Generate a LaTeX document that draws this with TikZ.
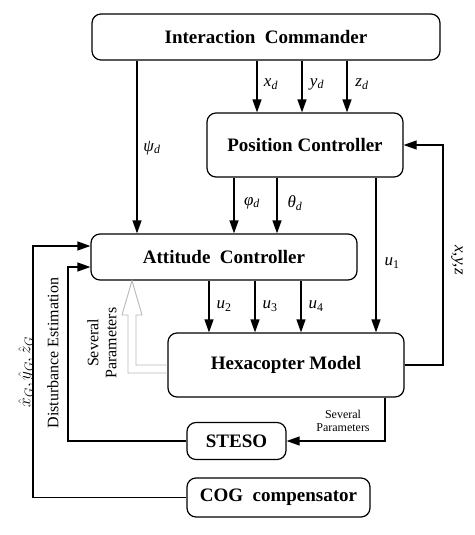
\documentclass[tikz,border=0pt]{standalone}
\usepackage{fontspec}
\setmainfont{Liberation Serif}
\usetikzlibrary{arrows.meta,calc}
\begin{document}
\begin{tikzpicture}[x=1pt,y=-1pt, line width=1.2pt,
  blk/.style={draw, rounded corners=9pt, font=\fontsize{19}{22}\selectfont\bfseries, inner sep=0pt},
  arr/.style={-{Triangle[length=13pt,width=9pt]}},
  lab/.style={font=\fontsize{17}{19}\selectfont, inner sep=0pt},
  sml/.style={font=\fontsize{12}{13.5}\selectfont, align=center, inner sep=0pt},
  rot/.style={font=\fontsize{16}{18}\selectfont, align=center, inner sep=0pt, rotate=90}]
\useasboundingbox (0,0) rectangle (474,535);
\fill[white] (0,0) rectangle (474,535);

% blocks
\node[blk, minimum width=348pt, minimum height=46pt] (IC) at (266,37) {Interaction\ \ Commander};
\node[blk, minimum width=196pt, minimum height=64pt] (PC) at (305,145) {Position Controller};
\node[blk, minimum width=266pt, minimum height=46pt] (AC) at (224,257) {Attitude\ \ Controller};
\node[blk, minimum width=236pt, minimum height=64pt] (HM) at (286,365) {Hexacopter Model};
\node[blk, minimum width=99pt, minimum height=37pt] (ST) at (236.5,441) {STESO};
\node[blk, minimum width=183pt, minimum height=39pt] (CG) at (278.5,497.5) {COG\ \ compensator};

% helper x positions
\coordinate (xps) at (137,0);
\coordinate (xxd) at (257,0);
\coordinate (xyd) at (302,0);
\coordinate (xzd) at (347,0);
\coordinate (xph) at (234,0);
\coordinate (xth) at (277,0);
\coordinate (xu1) at (376,0);
\coordinate (xu2) at (209,0);
\coordinate (xu3) at (255,0);
\coordinate (xu4) at (301,0);
\coordinate (xfb) at (443,0);
\coordinate (xsp) at (385,0);
\coordinate (xde) at (68,0);
\coordinate (xcg) at (33,0);
\coordinate (a1) at ($(AC.west)+(0,-11)$);
\coordinate (a2) at ($(AC.west)+(0,10)$);

% connectors
\draw[arr] (IC.south -| xps) -- (AC.north -| xps);
\draw[arr] (IC.south -| xxd) -- (PC.north -| xxd);
\draw[arr] (IC.south -| xyd) -- (PC.north -| xyd);
\draw[arr] (IC.south -| xzd) -- (PC.north -| xzd);
\draw[arr] (PC.south -| xph) -- (AC.north -| xph);
\draw[arr] (PC.south -| xth) -- (AC.north -| xth);
\draw[arr] (PC.south -| xu1) -- (HM.north -| xu1);
\draw[arr] (AC.south -| xu2) -- (HM.north -| xu2);
\draw[arr] (AC.south -| xu3) -- (HM.north -| xu3);
\draw[arr] (AC.south -| xu4) -- (HM.north -| xu4);
\draw[arr] (HM.east) -- (HM.east -| xfb) -- (PC.east -| xfb) -- (PC.east);
\draw[arr] (HM.south -| xsp) |- (ST.east);
\draw[arr] (ST.west) -- (ST.west -| xde) -- (xde |- a2) -- (a2);
\draw[arr] (CG.west) -- (CG.west -| xcg) -- (xcg |- a1) -- (a1);

% grey hollow arrow
\draw[gray!55, line width=0.9pt, line join=miter]
  ($(HM.west)+(0,8)$) -- (128,373) -- (128,315) -- (122,315) -- (AC.south -| 132,0) -- (142,315) -- (136,315) -- (136,365) -- ($(HM.west)+(0,0)$);

% labels
\node[lab] (lxd) at (271,84) {\textit{x}\textsubscript{\textit{d}}};
\node[lab] (lyd) at (317,84) {\textit{y}\textsubscript{\textit{d}}};
\node[lab] (lzd) at (362,84) {\textit{z}\textsubscript{\textit{d}}};
\node[lab] (lps) at (152,148) {\textit{ψ}\textsubscript{\textit{d}}};
\node[lab] (lph) at (252,203) {\textit{φ}\textsubscript{\textit{d}}};
\node[lab] (lth) at (295,203) {\textit{θ}\textsubscript{\textit{d}}};
\node[lab] (lu1) at (392,263) {\textit{u}\textsubscript{1}};
\node[lab] (lu2) at (224,306) {\textit{u}\textsubscript{2}};
\node[lab] (lu3) at (270,306) {\textit{u}\textsubscript{3}};
\node[lab] (lu4) at (316,306) {\textit{u}\textsubscript{4}};
\node[lab, rotate=-90] (lxyz) at (457,260) {\textit{x,y,z}};
\node[sml] (lsp) at (343,421) {Several\\Parameters};
\node[rot] (lsp2) at (102,343) {Several\\Parameters};
\node[rot] (lde) at (53,353) {Disturbance Estimation};
\node[rot, font=\fontsize{17}{19}\selectfont] (lxg) at (26,372) {$\hat{x}_G,\hat{y}_G,\hat{z}_G$};
\end{tikzpicture}
\end{document}
